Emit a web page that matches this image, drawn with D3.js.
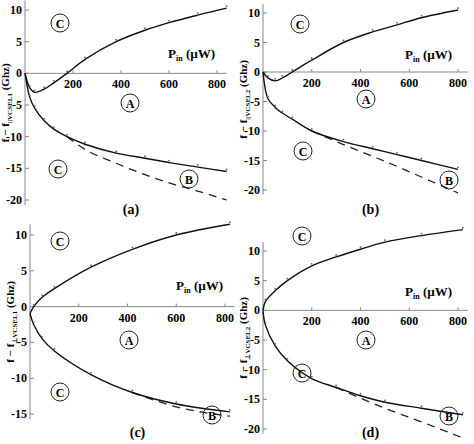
<!DOCTYPE html>
<html><head><meta charset="utf-8">
<script src="https://cdn.jsdelivr.net/npm/d3@7"></script>
<style>body{margin:0;background:#fff}text{font-family:"Liberation Serif",serif;font-weight:bold}</style>
</head><body><svg id="c" width="474" height="444"></svg>
<script>
// x values (µW) and curves (GHz) for each panel
const xsA = [0, 20, 40, 80, 120, 175, 250, 380, 500, 600, 720, 840];
const upA = [0, -2.3, -3, -2.5, -1.5, 0, 2.2, 5, 6.8, 8, 9.2, 10.3];
const loA = [0, -3.8, -5.5, -7.5, -8.8, -10, -11.2, -12.6, -13.4, -14.1, -14.8, -15.5];
const daA = [null, null, null, null, null, -10, -12, -14.2, -16, -17.3, -18.6, -20];

const xsB = [0, 20, 50, 80, 120, 200, 330, 450, 550, 650, 800];
const upB = [0, -1, -1.5, -1, 0, 2, 5, 6.8, 8, 9.2, 10.5];
const loB = [0, -4.5, -6, -7, -8, -10, -11.8, -13, -14, -15, -16.5];
const daB = [null, null, null, null, null, -10, -12.3, -14.3, -16, -17.8, -20.5];

const xsC = [0, 15, 50, 100, 250, 420, 600, 820];
const upC = [-1, 0, 1.3, 2.5, 5.5, 8, 10, 11.5];
const loC = [-1, -2.5, -4.5, -6.2, -9.5, -12, -13.6, -14.7];
const daC = [null, null, null, null, null, -12, -14, -15.3];

const xsD = [0, 10, 50, 100, 200, 300, 400, 500, 650, 820];
const upD = [0, 1.5, 3.3, 5, 7.5, 9, 10.3, 11.5, 12.6, 13.6];
const loD = [0, -2.5, -6, -8.5, -11.5, -13, -14.4, -15.5, -16.5, -17.6];
const daD = [null, null, null, null, null, -13, -14.8, -16.5, -18.8, -21.5];

const panels = [
  {xs: xsA, up: upA, lo: loA, da: daA, x0: 25, x1: 217, xmax: 800, yv: [10, -20], yp: [10, 200], cap: "(a)", capY: 214,
   sub: "||VCSEL1", A: [130, 103], B: [189, 179], C: [[60, 23], [58, 169]], lbl: [168, 58]},
  {xs: xsB, up: upB, lo: loB, da: daB, x0: 263, x1: 458, xmax: 800, yv: [10, -20], yp: [13, 190], cap: "(b)", capY: 214,
   sub: "||VCSEL2", A: [366, 99], B: [449, 180], C: [[300, 24], [303, 151]], lbl: [405, 59]},
  {xs: xsC, up: upC, lo: loC, da: daC, x0: 30, x1: 225, xmax: 800, yv: [10, -15], yp: [235, 414], cap: "(c)", capY: 437,
   sub: "⊥VCSEL1", A: [129, 340], B: [212, 415], C: [[60, 241], [60, 392]], lbl: [176, 290]},
  {xs: xsD, up: upD, lo: loD, da: daD, x0: 263, x1: 458, xmax: 800, yv: [10, -20], yp: [251, 429], cap: "(d)", capY: 437,
   sub: "⊥VCSEL2", A: [366, 340], B: [449, 416], C: [[302, 236], [302, 373]], lbl: [405, 296]}
];

const svg = d3.select("#c");

panels.forEach(p => {
  const x = d3.scaleLinear().domain([0, p.xmax]).range([p.x0, p.x1]);
  const y = d3.scaleLinear().domain(p.yv).range(p.yp);
  const g = svg.append("g");
  const ymin = p.yv[1], top = y(p.yv[0] + 1.5), bot = y(ymin - 0.8);

  // axes
  g.append("line").attr("x1", p.x0).attr("x2", p.x0).attr("y1", top).attr("y2", bot).attr("stroke", "#888");
  g.append("line").attr("x1", p.x0).attr("x2", x(840)).attr("y1", y(0)).attr("y2", y(0)).attr("stroke", "#888");
  const yt = d3.range(p.yv[0], ymin - 1, -5);
  yt.forEach(v => {
    g.append("line").attr("x1", p.x0).attr("x2", p.x0 + 4).attr("y1", y(v)).attr("y2", y(v)).attr("stroke", "#888");
    g.append("text").attr("x", p.x0 - 3).attr("y", y(v) + 4).attr("text-anchor", "end")
      .attr("font-size", 12).text(v);
  });
  [200, 400, 600, 800].forEach(v => {
    g.append("line").attr("x1", x(v)).attr("x2", x(v)).attr("y1", y(0) - 3).attr("y2", y(0)).attr("stroke", "#888");
    g.append("text").attr("x", x(v)).attr("y", y(0) + 15).attr("text-anchor", "middle")
      .attr("font-size", 12).text(v);
  });

  // curves
  const line = d3.line().defined(d => d[1] != null).x(d => x(d[0])).y(d => y(d[1])).curve(d3.curveMonotoneX);
  const path = arr => p.xs.map((v, i) => [v, arr[i]]);
  g.append("path").attr("d", line(path(p.da))).attr("fill", "none").attr("stroke", "#222")
    .attr("stroke-width", 1.3).attr("stroke-dasharray", "8,6");
  const curveY = d3.line().x(d => x(d[0])).y(d => y(d[1])).curve(d3.curveCatmullRom);
  g.append("path").attr("d", curveY(path(p.up))).attr("fill", "none").attr("stroke", "#111").attr("stroke-width", 1.4);
  g.append("path").attr("d", curveY(path(p.lo))).attr("fill", "none").attr("stroke", "#111").attr("stroke-width", 1.4);
  // measured points
  [p.up, p.lo].forEach(arr => p.xs.forEach((v, i) => {
    if (i > 0) g.append("circle").attr("cx", x(v)).attr("cy", y(arr[i]) - 2).attr("r", 0.9).attr("fill", "#666");
  }));

  // circled labels
  const circ = (pt, t) => {
    g.append("circle").attr("cx", pt[0]).attr("cy", pt[1]).attr("r", 9).attr("fill", "none").attr("stroke", "#222");
    g.append("text").attr("x", pt[0]).attr("y", pt[1] + 4.5).attr("text-anchor", "middle").attr("font-size", 12).text(t);
  };
  circ(p.A, "A"); circ(p.B, "B"); p.C.forEach(c => circ(c, "C"));

  // P_in label
  const t = g.append("text").attr("x", p.lbl[0]).attr("y", p.lbl[1]).attr("font-size", 13);
  t.append("tspan").text("P");
  t.append("tspan").attr("font-size", 8).attr("dy", 3).text("in");
  t.append("tspan").attr("dy", -3).text(" (µW)");

  // y label
  const yl = g.append("text").attr("transform", `translate(${p.x0 - 16},${(top + bot) / 2}) rotate(-90)`)
    .attr("text-anchor", "middle").attr("font-size", 11);
  yl.append("tspan").text("f − f");
  yl.append("tspan").attr("font-size", 7).attr("dy", 3).text(p.sub);
  yl.append("tspan").attr("dy", -3).text(" (Ghz)");

  g.append("text").attr("x", (p.x0 + p.x1) / 2 + 10).attr("y", p.capY).attr("text-anchor", "middle")
    .attr("font-size", 14).attr("font-weight", "normal").text(p.cap);
});
</script></body></html>
